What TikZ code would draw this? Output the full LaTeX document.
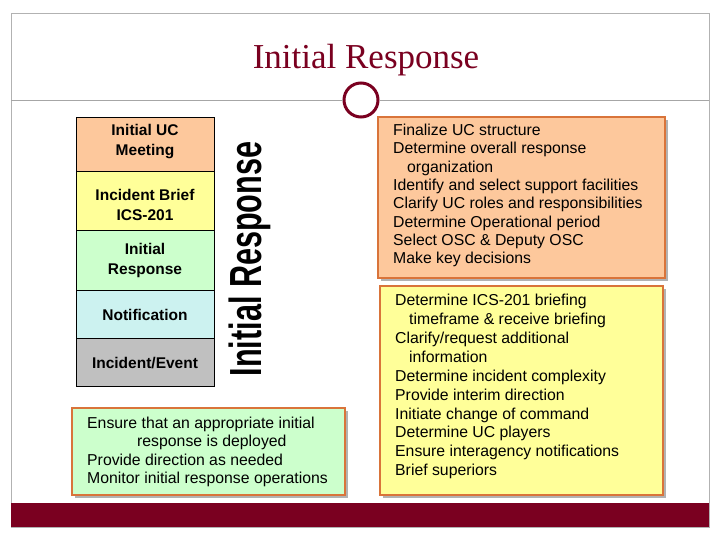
\documentclass[tikz,border=0pt]{standalone}
\usepackage{fontspec}
\setmainfont{Liberation Serif}
\newfontfamily\arial{Liberation Sans}
\definecolor{maroon}{HTML}{7A0020}
\definecolor{orng}{HTML}{FDC89C}
\definecolor{ylw}{HTML}{FFFF99}
\definecolor{grn}{HTML}{CCFFCC}
\definecolor{cyn}{HTML}{CCF2F0}
\definecolor{gry}{HTML}{C0C0C0}
\definecolor{bord}{HTML}{D9743A}
\begin{document}
\begin{tikzpicture}[x=1pt,y=-1pt,
  stack/.style={draw=black,line width=1pt,minimum width=138pt,inner sep=0pt,align=center,font=\arial\bfseries\fontsize{15.5}{20}\selectfont},
  info/.style={draw=bord,line width=1.2pt,inner sep=0pt},
  txt/.style={anchor=north west,align=left,inner sep=0pt,font=\arial\fontsize{15.8}{18.3}\selectfont}]
\useasboundingbox (0,0) rectangle (720,540);
\fill[white] (0,0) rectangle (720,540);
\draw[gray!60] (11,13) rectangle (709,527);
\fill[maroon] (11,503) rectangle (709,527);
\node (title) at (366,60) {\color{maroon}\fontsize{35}{40}\selectfont Initial Response};
\coordinate (l1) at (11,100); \coordinate (r1) at (709,100);
\node[circle,draw=maroon,line width=3pt,minimum size=34pt,inner sep=0pt] (circ) at (361,100) {};
\draw[gray!70,line width=0.6pt] (l1) -- (circ.west) (circ.east) -- (r1);
% stack
\draw[stack,fill=orng] (76,118) rectangle (214,172);
\draw[stack,fill=ylw] (76,172) rectangle (214,231);
\draw[stack,fill=grn] (76,231) rectangle (214,290);
\draw[stack,fill=cyn] (76,290) rectangle (214,338);
\draw[stack,fill=gry] (76,338) rectangle (214,386);
\node[stack,draw=none] (s1) at (145,142) {Initial UC\\Meeting};
\node[stack,draw=none] (s2) at (145,205) {Incident Brief\\ICS-201};
\node[stack,draw=none] (s3) at (145,260) {Initial\\Response};
\node[stack,draw=none] (s4) at (145,315) {Notification};
\node[stack,draw=none] (s5) at (145,363) {Incident/Event};
\node[rotate=90,inner sep=0pt,font=\arial\bfseries\fontsize{45}{45}\selectfont] (vt) at (250,259) {\scalebox{0.68}[1]{Initial Response}};
% right boxes
\fill[gray!60] (381,120) rectangle (668,281);
\draw[info,fill=orng] (378,117) rectangle (665,278);
\node[txt] (t1) at (393,124) {Finalize UC structure\\Determine overall response\\\hspace{14pt}organization\\Identify and select support facilities\\Clarify UC roles and responsibilities\\Determine Operational period\\Select OSC \& Deputy OSC\\Make key decisions};
\fill[gray!60] (383,289) rectangle (666,498);
\draw[info,fill=ylw] (380,286) rectangle (663,495);
\node[txt,font=\arial\fontsize{15.8}{18.9}\selectfont] (t2) at (395,294) {Determine ICS-201 briefing\\\hspace{14pt}timeframe \& receive briefing\\Clarify/request additional\\\hspace{14pt}information\\Determine incident complexity\\Provide interim direction\\Initiate change of command\\Determine UC players\\Ensure interagency notifications\\Brief superiors};
\fill[gray!60] (75,411) rectangle (348,498);
\draw[info,fill=grn] (72,408) rectangle (345,495);
\node[txt] (t3) at (87,417) {Ensure that an appropriate initial\\\hspace{50pt}response is deployed\\Provide direction as needed\\Monitor initial response operations};
\end{tikzpicture}
\end{document}
